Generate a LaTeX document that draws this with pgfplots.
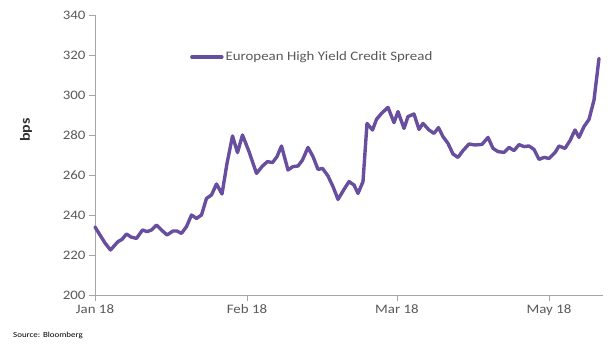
\documentclass[border=0pt]{standalone}
\usepackage{pgfplots}
\pgfplotsset{compat=1.18}
\usepackage{fontspec}
\setmainfont{Carlito}[FakeStretch=1.15]
\definecolor{linepurple}{RGB}{104,78,158}
\definecolor{txtgray}{RGB}{89,89,89}
\definecolor{axgray}{RGB}{166,166,166}
\begin{document}
\begin{tikzpicture}
\begin{axis}[
  at={(0,0)}, anchor=south west,
  scale only axis, width=508bp, height=280bp,
  xmin=0, xmax=508, ymin=200, ymax=340,
  axis x line*=bottom, axis y line*=left,
  axis line style={axgray, line width=0.8pt, -},
  xtick={0,152,302,454}, xticklabels={Jan 18, Feb 18, Mar 18, May 18},
  ytick={200,220,...,340},
  tick align=outside, major tick length=6bp,
  tick style={axgray, line width=0.8pt},
  ticklabel style={font=\fontsize{13}{15}\selectfont, text=txtgray},
  /pgf/number format/assume math mode=true,
  legend style={draw=none, fill=none, at={(0.187,0.85)}, anchor=west, inner sep=0pt,
    font=\fontsize{13}{15}\selectfont, text=txtgray},
  legend image code/.code={\draw[#1] (0bp,0bp) -- (30bp,0bp);},
  clip=false,
]
\addplot[linepurple, line width=3.4bp, line join=round, line cap=round] table {
x y
0 234
5 230
10 226
15.5 222.5
23 226.7
27 227.8
31.5 230.5
36 229
41.5 228.3
47.5 232.5
52 231.7
56.5 232.5
61.5 235
66.5 232.5
72 230
78 232
82 232
86.5 230.8
91.5 234.2
96.5 240
101.5 238.3
106.5 240
111.5 248.3
116.5 250
121.5 255.5
127 250.5
132 265.8
137.5 279.5
142.5 271.2
147.5 280
154 271.7
161.5 260.8
167.5 264.5
172.5 266.7
177.5 266.2
182 269.2
186.5 274.5
193 262.5
198 264.2
203 264.5
207.5 267.5
213 273.8
218 269.2
223 262.8
227.5 263.3
233 259.5
238 254.2
243 247.8
249 252.8
254 256.7
259 255
263 250.8
268 256.7
272 285.8
277.5 282.5
281.5 287.8
286.5 290.8
293 293.8
299 286.2
303 291.7
309 283.3
313 289.2
319 290.5
324 282.8
328 285.8
334 282.5
339 280.8
343.5 283.7
348 279.2
353 275.8
358 270.5
363 268.8
368 272.2
374 275.5
380 275
387 275.3
393 278.8
398 273.3
403 271.7
409 271.3
414 273.8
419 272.2
424 275.2
429 274.2
434 274.5
439 272.8
444 267.8
449 268.8
454 268.3
460 271.2
464 274.5
470 273.3
475 277.2
480 282.5
484 278.8
489 284.2
494 287.8
499 297.5
504 318.3
};
\addlegendentry{European High Yield Credit Spread}
\end{axis}
\node[rotate=90, font=\bfseries\fontsize{14}{16}\selectfont, text={rgb,255:red,50;green,50;blue,50}] at (-69bp,165bp) {bps};
\node[anchor=base west, inner sep=0pt, font=\fontsize{7.8}{9}\selectfont, text=black] at (-82bp,-42bp) {Source: Bloomberg};
\pgfresetboundingbox
\useasboundingbox (-95bp,-50bp) rectangle (518bp,295bp);
\end{tikzpicture}
\end{document}
